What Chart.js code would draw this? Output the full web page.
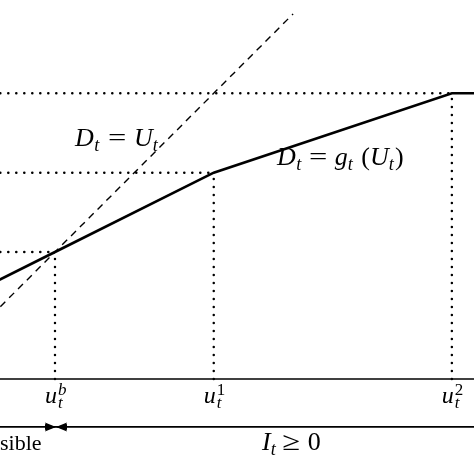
<!DOCTYPE html>
<html>
<head>
<meta charset="UTF-8">
<title>D_t = g_t(U_t)</title>
<script src="https://cdn.jsdelivr.net/npm/chart.js"></script>
<style>
  html, body { margin: 0; padding: 0; background: #fff; }
</style>
</head>
<body>
<canvas id="chart" width="474" height="474"></canvas>
<script>
// U on x, D on y
const kinkU = [4, 9, 16.5];          // u_t^b, u_t^1, u_t^2
const kinkD = [4, 6.5, 9];           // g_t at those points
const kinkNames = ['b', '1', '2'];
const gU = [2, 4, 9, 16.5, 18];      // piecewise g_t
const gD = [3, 4, 6.5, 9, 9];
const diagU = [2, 11.5];             // D = U
const xRange = [2.268, 17.197];
const yRange = [-2.992, 11.937];
const arrowD = -1.51;                // feasibility arrow row
const tickLabelD = -0.75;

function seg(pts, opts) {
  return Object.assign({
    data: pts, showLine: true, pointRadius: 0, borderColor: '#000',
    borderWidth: 1.5, fill: false, tension: 0
  }, opts);
}

const dotted = { borderWidth: 2.5, borderDash: [0.1, 7.9], borderCapStyle: 'round' };
const datasets = [];
kinkU.forEach((u, i) => {
  datasets.push(seg([{ x: xRange[0] - 1, y: kinkD[i] }, { x: u, y: kinkD[i] }], dotted));
  datasets.push(seg([{ x: u, y: 0 }, { x: u, y: kinkD[i] }], dotted));
});
datasets.push(seg(diagU.map(u => ({ x: u, y: u })), { borderWidth: 1.4, borderDash: [7, 5.5] }));
datasets.push(seg(gU.map((u, i) => ({ x: u, y: gD[i] })), { borderWidth: 2.7 }));
datasets.push(seg([{ x: xRange[0] - 1, y: 0 }, { x: xRange[1] + 1, y: 0 }], { borderWidth: 1.7 }));
datasets.push(seg([{ x: xRange[0] - 1, y: arrowD }, { x: xRange[1] + 1, y: arrowD }], { borderWidth: 1.7 }));

const SERIF = '"Liberation Serif", "DejaVu Serif", serif';

// tiny math typesetter: items = [text, kind]; 'gap' text is width in em,
// 'rel' is an upright relation symbol stretched a bit wider (TeX-like)
function drawMath(ctx, x, y, items, size) {
  let cx = x;
  items.forEach(([t, kind]) => {
    if (kind === 'gap') { cx += size * parseFloat(t); return; }
    let fs = size, dy = 0, style = 'italic ', sx = 1;
    if (kind === 'r') style = '';
    if (kind === 'rel') { style = ''; sx = 1.25; }
    if (kind === 'sub') { fs = size * 0.7; dy = size * 0.2; }
    ctx.font = style + fs + 'px ' + SERIF;
    ctx.save();
    ctx.translate(cx, y + dy);
    ctx.scale(sx, 1);
    ctx.fillText(t, 0, 0);
    ctx.restore();
    cx += ctx.measureText(t).width * sx;
  });
  return cx - x;
}

const textPlugin = {
  id: 'mathText',
  afterDraw(chart) {
    const ctx = chart.ctx, xs = chart.scales.x, ys = chart.scales.y;
    ctx.save();
    ctx.fillStyle = '#000';
    ctx.textBaseline = 'alphabetic';
    ctx.textAlign = 'left';

    // tick labels u_t^b, u_t^1, u_t^2
    const ty = ys.getPixelForValue(tickLabelD);
    kinkU.forEach((u, i) => {
      const px = xs.getPixelForValue(u);
      ctx.font = 'italic 24px ' + SERIF;
      const w = ctx.measureText('u').width;
      ctx.fillText('u', px + 2 - w, ty);
      ctx.font = 'italic 17px ' + SERIF;
      ctx.fillText('t', px + 3, ty + 5);
      ctx.font = (kinkNames[i] === 'b' ? 'italic ' : '') + '17px ' + SERIF;
      ctx.fillText(kinkNames[i], px + 3, ty - 8);
    });

    // curve labels
    drawMath(ctx, xs.getPixelForValue(4.63), ys.getPixelForValue(7.34),
      [['D', 'i'], ['0.02', 'gap'], ['t', 'sub'], ['0.33', 'gap'], ['=', 'rel'], ['0.3', 'gap'],
       ['U', 'i'], ['t', 'sub']], 26);
    drawMath(ctx, xs.getPixelForValue(10.99), ys.getPixelForValue(6.74),
      [['D', 'i'], ['0.02', 'gap'], ['t', 'sub'], ['0.3', 'gap'], ['=', 'rel'], ['0.28', 'gap'],
       ['g', 'i'], ['t', 'sub'], ['0.33', 'gap'], ['(', 'r'], ['U', 'i'], ['t', 'sub'], ['0.05', 'gap'], [')', 'r']], 26);

    // feasibility row
    const ay = ys.getPixelForValue(arrowD);
    const tip = xs.getPixelForValue(kinkU[0]) + 1;
    [-1, 1].forEach(s => {
      ctx.beginPath();
      ctx.moveTo(tip, ay);
      ctx.lineTo(tip + s * 11, ay - 4.5);
      ctx.lineTo(tip + s * 9, ay);
      ctx.lineTo(tip + s * 11, ay + 4.5);
      ctx.closePath();
      ctx.fill();
      ctx.beginPath();
      ctx.moveTo(tip, ay);
      ctx.lineTo(tip + s * 11, ay - 3);
      ctx.lineTo(tip + s * 11, ay + 3);
      ctx.closePath();
      ctx.fill();
    });

    ctx.font = '22px ' + SERIF;
    ctx.fillText('sible', 0, ay + 23);
    drawMath(ctx, 262, ay + 23,
      [['I', 'i'], ['t', 'sub'], ['0.25', 'gap'], ['≥', 'rel'], ['0.3', 'gap'], ['0', 'r']], 26);
    ctx.restore();
  }
};

new Chart(document.getElementById('chart'), {
  type: 'scatter',
  data: { datasets },
  options: {
    responsive: false,
    animation: false,
    layout: { padding: 0 },
    plugins: { legend: { display: false }, tooltip: { enabled: false } },
    scales: {
      x: { type: 'linear', display: false, min: xRange[0], max: xRange[1] },
      y: { type: 'linear', display: false, min: yRange[0], max: yRange[1] }
    }
  },
  plugins: [textPlugin]
});
</script>
</body>
</html>
